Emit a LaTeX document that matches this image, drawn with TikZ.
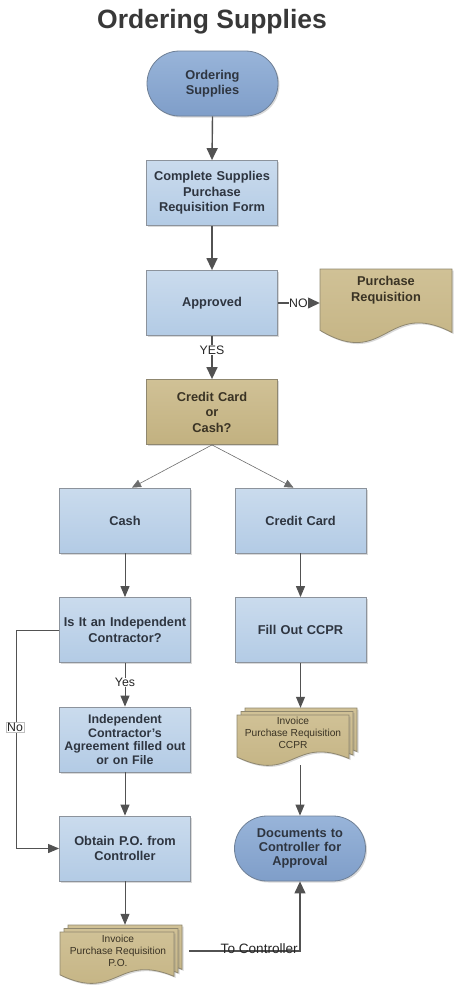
\documentclass[tikz,border=0pt]{standalone}
\usepackage{fontspec}
\setmainfont{Liberation Sans}
\usetikzlibrary{arrows.meta,shadows,calc}
\definecolor{boxtop}{HTML}{CADBED}
\definecolor{boxbot}{HTML}{B3CBE5}
\definecolor{boxline}{HTML}{8C939C}
\definecolor{termtop}{HTML}{98B4D9}
\definecolor{termbot}{HTML}{7F9EC9}
\definecolor{termline}{HTML}{6F8096}
\definecolor{tantop}{HTML}{D0C196}
\definecolor{tanbot}{HTML}{C2B180}
\definecolor{tanline}{HTML}{8F876F}
\definecolor{txt}{HTML}{2E3540}
\definecolor{tantxt}{HTML}{3A3324}
\definecolor{arrowc}{HTML}{525252}
\definecolor{titlec}{HTML}{383838}
\tikzset{
  base/.style={minimum width=131pt, minimum height=65pt, inner sep=2pt, align=center,
    text width=127pt, font=\fontsize{12.8}{15.5}\selectfont\bfseries, text=txt,
    draw=boxline, line width=0.8pt,
    drop shadow={shadow xshift=1.5pt, shadow yshift=-1.5pt, opacity=0.3}},
  procbox/.style={base, top color=boxtop, bottom color=boxbot},
  termbox/.style={base, top color=termtop, bottom color=termbot, draw=termline, rounded corners=32.5pt},
  tanbox/.style={base, top color=tantop, bottom color=tanbot, draw=tanline, text=tantxt},
  docst/.style={top color=tantop, bottom color=tanbot, draw=tanline, line width=0.8pt,
    drop shadow={shadow xshift=1.5pt, shadow yshift=-1.5pt, opacity=0.3}},
  doctext/.style={font=\fontsize{10.2}{12}\selectfont, text=tantxt, align=center, inner sep=0pt},
  bbox/.style={draw=none, inner sep=0pt},
  lab/.style={font=\fontsize{12.3}{14}\selectfont, text=black!85, fill=white, inner sep=0.5pt},
  arr/.style={draw=arrowc, line width=1.4pt, -{Triangle[width=11pt,length=12pt]}},
  arrs/.style={draw=arrowc, line width=1pt, -{Triangle[width=9pt,length=11pt]}},
  arrd/.style={draw=arrowc!85, line width=0.6pt, -{Triangle[width=8pt,length=9pt]}},
  plain/.style={draw=arrowc, line width=1pt},
}
% document shape: x y w h style
\newcommand\docshape[5]{%
  \path[#5] ({#1},{#2}) -- ({#1+#3},{#2}) -- ({#1+#3},{#2+0.87*#4})
    .. controls ({#1+0.5*#3},{#2+0.4*#4}) and ({#1+0.5*#3},{#2+1.38*#4}) ..
    ({#1},{#2+0.84*#4}) -- cycle;}
% multi document: x y w h (front layer)
\newcommand\multidocshape[4]{%
  \docshape{#1+8}{#2-7}{#3}{#4}{docst}
  \docshape{#1+4}{#2-3.5}{#3}{#4}{docst}
  \docshape{#1}{#2}{#3}{#4}{docst}}
\begin{document}
\begin{tikzpicture}[x=1pt,y=-1pt]
\useasboundingbox (0,0) rectangle (458,996);

\node[font=\fontsize{26.5}{30}\selectfont\bfseries, text=titlec, anchor=base] (title) at (212,28) {Ordering Supplies};

\node[termbox] (start) at (212.5,83.5) {Ordering\\Supplies};
\node[procbox] (complete) at (212,193) {Complete Supplies\\Purchase\\Requisition Form};
\node[procbox] (approved) at (212,303) {Approved};

\docshape{320}{269}{132}{73}{docst}
\node[bbox, minimum width=132pt, minimum height=73pt] (pr) at (386,305.5) {};
\node[font=\fontsize{12.8}{15.5}\selectfont\bfseries, text=tantxt, align=center, inner sep=0pt] (prt) at (386,290) {Purchase\\Requisition};

\node[tanbox] (ccc) at (212,412) {Credit Card\\or\\Cash?};
\node[procbox] (cash) at (125,520.5) {Cash};
\node[procbox] (cc) at (300.5,520.5) {Credit Card};
\node[procbox] (isit) at (125,630) {Is It an Independent\\Contractor?};
\node[procbox] (fill) at (300.5,630) {Fill Out CCPR};
\node[procbox, font=\fontsize{12.4}{13.6}\selectfont\bfseries] (ica) at (125,739.5) {Independent\\Contractor's\\Agreement filled out\\or on File};

\multidocshape{237}{715}{112}{50}
\node[bbox, minimum width=120pt, minimum height=57pt] (ccpr) at (297,736.5) {};
\node[doctext] (ccprt) at (293,733) {Invoice\\Purchase Requisition\\CCPR};

\node[procbox] (obtain) at (125,848.5) {Obtain P.O. from\\Controller};
\node[termbox, font=\fontsize{12.8}{14}\selectfont\bfseries] (docs) at (300,848.5) {Documents to\\Controller for\\Approval};

\multidocshape{60}{932}{114}{51}
\node[bbox, minimum width=122pt, minimum height=58pt] (po) at (121,954) {};
\node[doctext] (pot) at (118,951) {Invoice\\Purchase Requisition\\P.O.};

% connectors
\draw[arr] (start.south) -- (complete.north);
\draw[arr] (complete.south) -- (approved.north);
\draw[arr] (approved.east) -- node[lab, pos=0.49] {NO} (approved.east -| pr.west);
\draw[arr] (approved.south) -- node[lab, pos=0.33] {YES} (ccc.north);
\draw[arrd] (ccc.south) -- ([xshift=7pt]cash.north);
\draw[arrd] (ccc.south) -- ([xshift=-7pt]cc.north);
\draw[arrs] (cash.south) -- (isit.north);
\draw[arrs] (cc.south) -- (fill.north);
\draw[arrs] (isit.south) -- node[lab, pos=0.45] {Yes} (ica.north);
\draw[arrs] (fill.south) -- (fill.south |- ccpr.north);
\draw[arrs] (ica.south) -- (obtain.north);
\draw[arrs] (ccpr.south -| docs.north) -- (docs.north);
\draw[arrs] (obtain.south) -- (obtain.south |- po.north);

\coordinate (nc) at (16,630);
\draw[arrs] (isit.west) -- (nc) |- (obtain.west);
\node[lab, draw=black!25, line width=0.3pt, inner sep=1pt] (nolab) at (15,727) {No};

\draw[arr, line width=1.2pt] ([xshift=7pt,yshift=3pt]po.east) -| (docs.south);
\node[font=\fontsize{13.6}{15}\selectfont, text=black!85, anchor=base east, inner sep=0pt] (tolab) at (298,953) {To Controller};
\end{tikzpicture}
\end{document}
